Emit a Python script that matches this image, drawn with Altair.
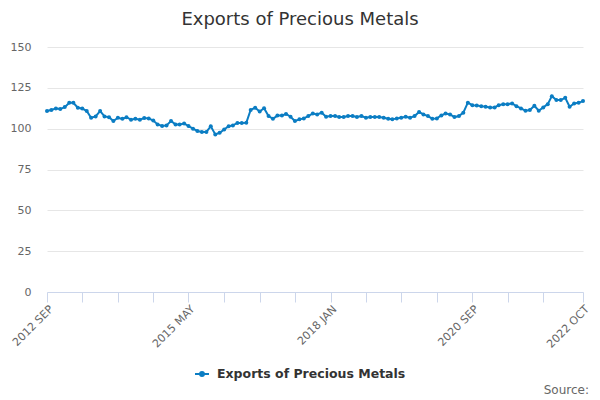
import altair as alt
import pandas as pd

# Monthly values, 2012 SEP .. 2022 OCT (122 months)
start_month = "2012-09-01"
values = [
    110.8, 111.4, 112.4, 112.0, 113.2, 115.8, 115.8, 112.8, 112.4, 110.8,
    106.7, 107.5, 110.8, 107.5, 107.0, 104.7, 106.7, 106.0, 107.0, 105.5,
    106.0, 105.5, 106.5, 106.3, 105.0, 102.6, 101.6, 102.0, 104.7, 102.6,
    102.6, 103.2, 101.6, 100.0, 98.6, 98.0, 98.0, 101.5, 96.5, 97.5,
    99.5, 101.5, 102.0, 103.5, 103.5, 103.6, 111.5, 112.8, 110.5, 112.5,
    107.7, 106.0, 108.0, 108.0, 109.0, 107.3, 104.7, 105.7, 106.3, 107.7,
    109.3, 108.7, 109.8, 107.3, 107.7, 107.7, 107.1, 107.1, 107.7, 107.7,
    107.1, 107.7, 106.7, 107.1, 107.1, 107.1, 106.7, 106.1, 105.7, 106.3,
    106.7, 107.3, 106.7, 107.7, 110.2, 108.7, 107.7, 106.1, 106.3, 108.1,
    109.3, 108.7, 107.1, 107.7, 109.8, 115.9, 114.4, 114.2, 113.8, 113.4,
    113.0, 113.0, 114.4, 115.0, 115.0, 115.4, 113.8, 112.4, 111.0, 111.4,
    114.0, 111.0, 113.0, 115.0, 119.9, 117.5, 117.5, 118.9, 113.4, 115.4,
    115.8, 116.9,
]
series_name = "Exports of Precious Metals"
source_text = ["Source:"]
y_ticks = [0, 25, 50, 75, 100, 125, 150]
tick_months = ["2012-09", "2013-05", "2014-01", "2014-09", "2015-05", "2016-01",
               "2016-09", "2017-05", "2018-01", "2018-09", "2019-05", "2020-01",
               "2020-09", "2021-05", "2022-01", "2022-10"]
label_months = ["2012-09", "2015-05", "2018-01", "2020-09", "2022-10"]

dates = pd.date_range(start_month, periods=len(values), freq="MS")
df = pd.DataFrame({
    "date": dates.strftime("%Y-%m-%d"),
    "value": values,
    "series": series_name,
})

tick_values = [
    alt.DateTime(year=int(m[:4]), month=int(m[5:]), date=1, utc=True)
    for m in tick_months
]
label_list = "[" + ",".join("'" + m + "'" for m in label_months) + "]"
label_expr = (
    f"indexof({label_list}, utcFormat(datum.value, '%Y-%m')) >= 0 ? "
    "utcFormat(datum.value, '%Y') + ' ' + upper(utcFormat(datum.value, '%b')) : ''"
)

color = "#0b7dc3"
FONT = "DejaVu Sans"
W, H = 536, 245
PAD_L, PAD_T = 47, 47

legend_symbol = ("M-1,0L1,0M-0.28,0a0.28,0.28 0 1,0 0.56,0"
                 "a0.28,0.28 0 1,0 -0.56,0")

line = alt.Chart(df).mark_line(
    strokeWidth=2,
    point=alt.OverlayMarkDef(size=16, filled=True, color=color),
).encode(
    x=alt.X(
        "date:T",
        scale=alt.Scale(type="utc", nice=False),
        axis=alt.Axis(
            title=None, grid=False, values=tick_values, labelExpr=label_expr,
            labelAngle=-45, labelAlign="right", labelBaseline="top",
            labelFlush=False, labelOverlap=False, labelPadding=1,
            domainColor="#ccd6eb", tickColor="#ccd6eb", tickSize=10,
            labelColor="#666666", labelFontSize=11, labelFont=FONT,
        ),
    ),
    y=alt.Y(
        "value:Q",
        scale=alt.Scale(domain=[0, 150], nice=False),
        axis=alt.Axis(
            title=None, values=y_ticks, domain=False, ticks=False,
            gridColor="#e6e6e6", labelPadding=16, labelColor="#666666",
            labelFontSize=11, labelFont=FONT,
        ),
    ),
    color=alt.Color(
        "series:N",
        scale=alt.Scale(range=[color]),
        legend=alt.Legend(
            title=None, orient="none", legendX=147, legendY=319,
            symbolType=legend_symbol, symbolSize=196, symbolStrokeWidth=2,
            symbolFillColor=color, symbolStrokeColor=color,
            labelFont=FONT, labelFontSize=12.5, labelFontWeight="bold",
            labelColor="#333333", padding=0, labelOffset=7, labelLimit=0,
        ),
    ),
)

source = alt.Chart(pd.DataFrame({"t": source_text})).mark_text(
    align="right", baseline="middle", fontSize=12, font=FONT, color="#666666",
).encode(
    x=alt.value(W + 6), y=alt.value(343), text="t:N",
)

chart = alt.layer(line, source).properties(
    width=W, height=H,
    title=alt.TitleParams(
        "Exports of Precious Metals", fontSize=18, font=FONT,
        fontWeight="normal", color="#333333", dx=-15, offset=12,
    ),
    autosize=alt.AutoSizeParams(type="none"),
    padding={"left": PAD_L, "top": PAD_T, "right": 600 - PAD_L - W,
             "bottom": 400 - PAD_T - H},
).configure_view(stroke=None)

chart.save("out.html", embed_options={"renderer": "svg", "actions": False})
